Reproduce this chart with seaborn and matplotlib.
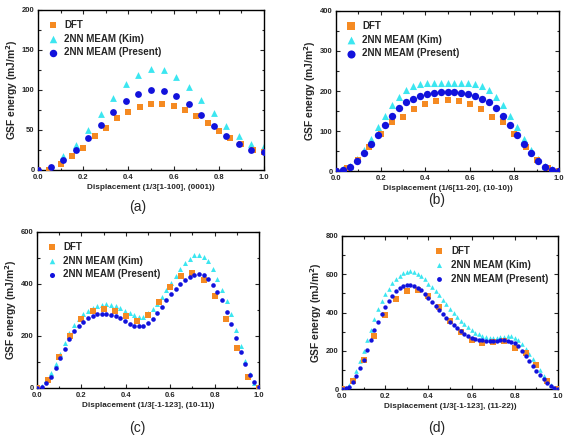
import numpy as np
import seaborn as sns
import matplotlib.pyplot as plt
from matplotlib.ticker import MultipleLocator, FormatStrFormatter

# ---- data (mJ/m^2) ----
# (a) 1/3[1-100], (0001)
a_dft = [0, 0, 8, 18, 28, 42, 53, 65, 73, 79, 83, 82, 80, 75, 67, 59, 49, 40, 32, 25, 22]
a_kim = [0, 3, 17, 31, 50, 70, 90, 107, 119, 126, 125, 116, 104, 88, 71, 55, 42, 33, 30]
a_pre = [0, 4, 13, 25, 40, 56, 73, 86, 95, 100, 99, 93, 82, 69, 55, 43, 32, 25, 22]

# (b) 1/6[11-20], (10-10)
b_dft = [0, 8, 28, 59, 92, 122, 134, 154, 168, 176, 177, 176, 168, 154, 134, 122, 92, 59, 28, 8, 0]
b_kim = [0, 4, 12, 29, 52, 80, 109, 137, 165, 184, 203, 212, 218, 220, 221, 221, 221,
         221, 221, 220, 218, 212, 203, 184, 165, 137, 109, 80, 52, 29, 12, 4, 0]
b_pre = [0, 3, 11, 26, 44, 67, 90, 115, 137, 157, 172, 180, 188, 193, 196, 197, 198,
         197, 196, 193, 188, 180, 172, 157, 137, 115, 90, 67, 44, 26, 11, 3, 0]

# (c) 1/3[-1-123], (10-11)
c_dft = [0, 32, 118, 199, 267, 297, 304, 297, 278, 259, 279, 329, 390, 429, 441, 417, 353, 265, 154, 41, 0]
c_kim = [0, 6, 30, 57, 93, 132, 172, 210, 242, 266, 284, 297, 307, 315, 321, 323, 321,
         316, 307, 297, 288, 280, 274, 275, 288, 305, 325, 350, 378, 405, 432, 458, 480,
         498, 510, 513, 505, 487, 458, 420, 378, 335, 285, 225, 162, 105, 55, 18, 2]
c_pre = [0, 5, 20, 44, 76, 114, 150, 187, 220, 239, 255, 268, 276, 283, 286, 284, 282,
         276, 268, 257, 246, 239, 237, 239, 250, 266, 290, 312, 338, 360, 382, 399, 415,
         428, 436, 438, 434, 420, 398, 368, 337, 291, 246, 192, 140, 92, 49, 23, 4]

# (d) 1/3[-1-123], (11-22)
d_dft = [0, 40, 151, 278, 388, 470, 515, 517, 487, 428, 358, 296, 254, 240, 245, 249, 215, 190, 125, 43, 0]
d_kim = [0, 5, 22, 52, 95, 145, 198, 255, 310, 365, 420, 460, 495, 525, 553, 575, 592,
         604, 612, 616, 612, 603, 590, 574, 551, 532, 512, 489, 466, 443, 420, 398, 377,
         357, 339, 322, 307, 295, 285, 277, 272, 269, 268, 268, 270, 272, 275, 276, 268,
         255, 235, 210, 182, 155, 125, 98, 70, 45, 22, 7, 0]
d_pre = [0, 3, 12, 35, 68, 108, 152, 205, 258, 310, 352, 392, 430, 461, 487, 510, 526,
         537, 543, 545, 540, 530, 517, 499, 478, 456, 435, 412, 392, 372, 352, 334, 317,
         302, 289, 278, 269, 262, 257, 254, 252, 251, 252, 253, 254, 254, 252, 248, 242,
         224, 200, 172, 148, 120, 96, 73, 50, 30, 16, 4, 0]

xlabels = ['Displacement (1/3[1-100], (0001))', 'Displacement (1/6[11-20], (10-10))',
           'Displacement (1/3[-1-123], (10-11))', 'Displacement (1/3[-1-123], (11-22))']
tags = ['(a)', '(b)', '(c)', '(d)']

sns.set_style('ticks')
plt.rcParams['font.family'] = ['Liberation Sans', 'DejaVu Sans']
plt.rcParams['font.weight'] = 'bold'
plt.rcParams['axes.labelweight'] = 'bold'

c_dft_col = '#F58A22'
c_kim_col = '#3CE6F0'
c_pre_col = '#1212DC'

fig = plt.figure(figsize=(5.75, 4.42), dpi=100)
W, H = 575, 442
boxes = [(38, 264, 10, 170), (336, 559, 11, 171), (37, 259, 232, 388), (342, 558, 236, 389)]
axes = [fig.add_axes([l / W, 1 - b / H, (r - l) / W, (b - t) / H]) for l, r, t, b in boxes]

sets = [(a_dft, a_kim, a_pre), (b_dft, b_kim, b_pre), (c_dft, c_kim, c_pre), (d_dft, d_kim, d_pre)]
ymax = [200, 400, 600, 800]
ymaj = [50, 100, 200, 200]
ymin = [25, 50, 100, 100]
msz = [(18, 24, 24), (22, 26, 28), (18, 13, 11), (18, 11, 10)]

for i, ax in enumerate(axes):
    dft, kim, pre = sets[i]
    sd, sk, sp = msz[i]
    sns.scatterplot(x=np.linspace(0, 1, len(kim)), y=kim, marker='^', color=c_kim_col, s=sk,
                    linewidth=0, label='2NN MEAM (Kim)', ax=ax, zorder=2)
    sns.scatterplot(x=np.linspace(0, 1, len(dft)), y=dft, marker='s', color=c_dft_col, s=sd,
                    linewidth=0, label='DFT', ax=ax, zorder=3)
    sns.scatterplot(x=np.linspace(0, 1, len(pre)), y=pre, marker='o', color=c_pre_col, s=sp,
                    linewidth=0, label='2NN MEAM (Present)', ax=ax, zorder=4)
    ax.set_xlim(0, 1)
    ax.set_ylim(0, ymax[i])
    ax.xaxis.set_major_locator(MultipleLocator(0.2))
    ax.xaxis.set_minor_locator(MultipleLocator(0.1))
    ax.xaxis.set_major_formatter(FormatStrFormatter('%.1f'))
    ax.yaxis.set_major_locator(MultipleLocator(ymaj[i]))
    ax.yaxis.set_minor_locator(MultipleLocator(ymin[i]))
    ax.tick_params(which='both', direction='in', top=True, right=True, labelsize=5.5, width=0.8)
    ax.tick_params(axis='x', pad=3)
    ax.tick_params(axis='y', pad=2.5)
    ax.tick_params(which='major', length=3)
    ax.tick_params(which='minor', length=1.8)
    for sp_ in ax.spines.values():
        sp_.set_linewidth(1)
        sp_.set_color('black')
    ax.set_xlabel(xlabels[i], fontsize=5.9, labelpad=2)
    ax.set_ylabel('GSF energy (mJ/m$^\\mathbf{2}$)', fontsize=7.4, labelpad=1.5)
    h, l = ax.get_legend_handles_labels()
    order = [1, 0, 2]
    loc = 'upper right' if i == 3 else 'upper left'
    ax.legend([h[j] for j in order], [l[j] for j in order], loc=loc, frameon=False,
              fontsize=7, handletextpad=0.7, labelspacing=0.4, borderaxespad=0.6,
              handlelength=1.0, markerscale=1.1)

tag_pos = [(138, 207), (437, 200), (137, 428), (437, 428)]
for t, (x, y) in zip(tags, tag_pos):
    fig.text(x / W, 1 - y / H, t, ha='center', va='center', fontsize=10, fontweight='normal')

fig.savefig('out.png', dpi=100)
